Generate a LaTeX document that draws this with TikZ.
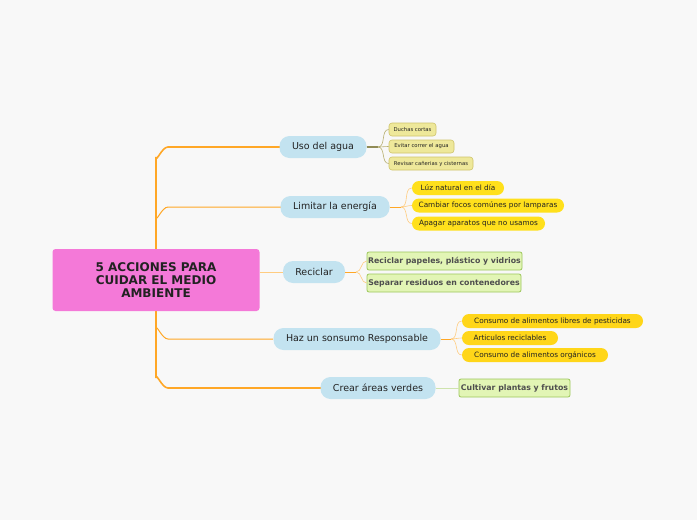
\documentclass[tikz,border=0pt]{standalone}
\usepackage{fontspec}
\setmainfont{DejaVu Sans}
\begin{document}
\begin{tikzpicture}[x=1pt,y=-1pt,
  main/.style={fill=mpink,rounded corners=3pt,minimum width=207pt,minimum height=62pt,align=center,font=\fontsize{12}{13}\selectfont\bfseries,text=textc,inner sep=2pt},
  br/.style={fill=bblue,rounded corners=10pt,minimum height=22pt,font=\fontsize{9.5}{10}\selectfont,text=textc,inner sep=0pt},
  lfa/.style={fill=ayel,draw=ayelb,line width=0.6pt,rounded corners=3pt,minimum height=13pt,font=\fontsize{5.3}{6}\selectfont,inner sep=0pt,text=textc},
  lfy/.style={fill=yel,rounded corners=7pt,minimum height=14pt,font=\fontsize{7.3}{8}\selectfont,inner sep=0pt,text=textc},
  lfg/.style={fill=gfill,draw=gline,line width=0.8pt,rounded corners=2pt,minimum height=18pt,font=\fontsize{7.8}{8}\selectfont\bfseries,inner sep=0pt,text=textc!80},
  trunk/.style={draw=orng,line width=1.6pt},
  thin/.style={draw=#1,line width=0.6pt}]
\definecolor{bg}{HTML}{F8F8F8}
\definecolor{mpink}{HTML}{F479D8}
\definecolor{bblue}{HTML}{C3E3F0}
\definecolor{ayel}{HTML}{EEE89A}
\definecolor{ayelb}{HTML}{CFC46A}
\definecolor{yel}{HTML}{FFE01C}
\definecolor{gfill}{HTML}{E2F5B5}
\definecolor{gline}{HTML}{9DC75B}
\definecolor{orng}{HTML}{FFA726}
\definecolor{lorng}{HTML}{FFCC80}
\definecolor{textc}{HTML}{222222}
\fill[bg] (0,0) rectangle (697,520);
\useasboundingbox (0,0) rectangle (697,520);
% trunk
\coordinate (t0) at (156,280);
\draw[trunk] (156,260) -- (156,157) to[out=-90,in=180] (168,147) -- (280,147);
\draw[trunk] (156,300) -- (156,378) to[out=90,in=180] (168,388) -- (321,388);
\draw[draw=orng,line width=1pt] (156,217) to[out=-90,in=180] (168,207) -- (281,207);
\draw[draw=orng,line width=1pt] (156,329) to[out=90,in=180] (168,339) -- (273,339);
\draw[draw=lorng,line width=0.8pt] (260,272) -- (283,272);
\node[main] (m) at (156,280) {5 ACCIONES PARA\\CUIDAR EL MEDIO\\AMBIENTE};
\node[br,minimum width=87pt] (b1) at (323,147) {Uso del agua};
\node[br,minimum width=109pt] (b2) at (335,207) {Limitar la energía};
\node[br,minimum width=62pt] (b3) at (314,272) {Reciclar};
\node[br,minimum width=167pt] (b4) at (357,339) {Haz un sonsumo Responsable};
\node[br,minimum width=115pt] (b5) at (378,388) {Crear áreas verdes};
% agua leaves
\node[lfa,minimum width=47pt] (a1) at (412.5,129.5) {Duchas cortas};
\node[lfa,minimum width=65pt] (a2) at (421.5,146.5) {Evitar correr el agua};
\node[lfa,minimum width=84pt] (a3) at (431,163.5) {Revisar cañerias y cisternas};
\draw[draw=gray!60!olive,line width=1.2pt] (b1.east) -- (378,147);
\foreach \n in {a1,a2,a3}{\draw[thin=ayelb!70!gray] (378,147) to[out=0,in=180] (\n.west);}
% energia
\node[lfy,minimum width=92pt] (e1) at (458,188) {Lúz natural en el día};
\node[lfy,minimum width=152pt] (e2) at (488,205.5) {Cambiar focos comúnes por lamparas};
\node[lfy,minimum width=133pt] (e3) at (478.5,223.5) {Apagar aparatos que no usamos};
\draw[draw=orng,line width=1pt] (b2.east) -- (401,207);
\foreach \n in {e1,e2,e3}{\draw[thin=lorng] (401,207) to[out=0,in=180] (\n.west);}
% reciclar
\node[lfg,minimum width=155pt] (r1) at (444.5,261) {Reciclar papeles, plástico y vidrios};
\node[lfg,minimum width=154pt] (r2) at (444,283) {Separar residuos en contenedores};
\draw[draw=orng,line width=0.8pt] (b3.east) -- (356,272);
\foreach \n in {r1,r2}{\draw[thin=lorng] (356,272) to[out=0,in=180] (\n.west);}
% haz
\node[lfy,fill=yel!90!orange,minimum width=181pt] (h1) at (552.5,321) {Consumo de alimentos libres de pesticidas};
\node[lfy,fill=yel!90!orange,minimum width=96pt] (h2) at (510,338) {Articulos reciclables};
\node[lfy,fill=yel!90!orange,minimum width=146pt] (h3) at (535,355) {Consumo de alimentos orgánicos};
\draw[draw=orng,line width=1pt] (b4.east) -- (451,339);
\foreach \n in {h1,h2,h3}{\draw[thin=lorng] (451,339) to[out=0,in=180] (\n.west);}
% crear
\node[lfg,minimum width=111pt] (c1) at (514.5,388) {Cultivar plantas y frutos};
\draw[draw=gline!50,line width=0.8pt] (b5.east) -- (c1.west);
\end{tikzpicture}
\end{document}
